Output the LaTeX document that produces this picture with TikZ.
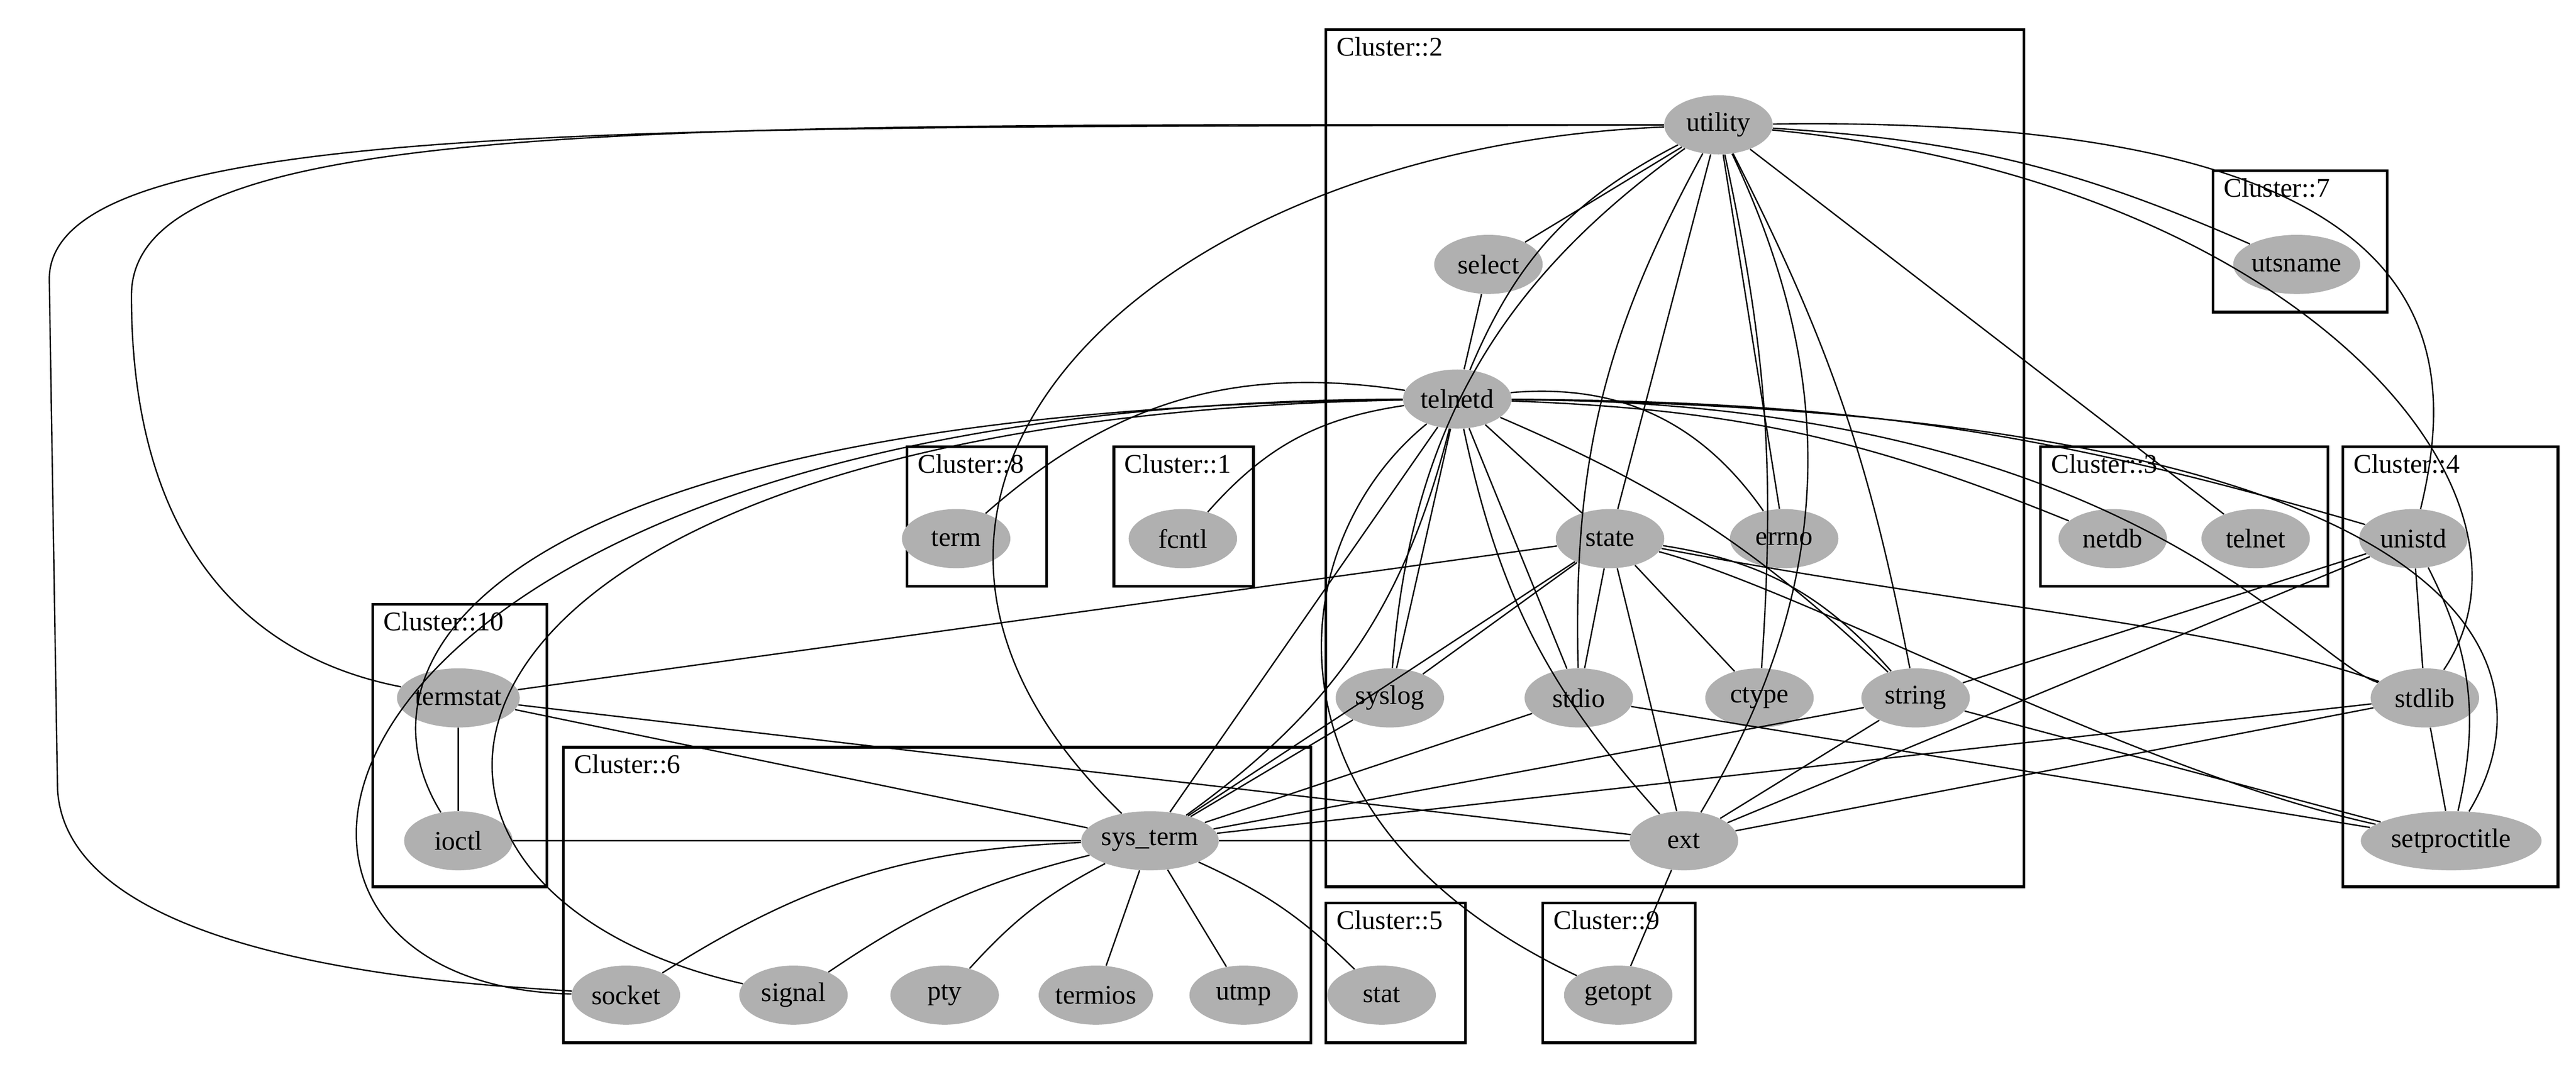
\documentclass[tikz,border=0pt]{standalone}
\usepackage{fontspec}
\setmainfont{Liberation Serif}
\usetikzlibrary{shapes.geometric}
\begin{document}
\begin{tikzpicture}[x=0.03cm,y=-0.03cm,
  mod/.style={ellipse,fill=black!31,minimum width=1.98cm,minimum height=1.08cm,inner sep=0pt,font=\fontsize{14}{16}\selectfont},
  clu/.style={draw,line width=1.4pt},
  clab/.style={anchor=north west,inner sep=2pt,font=\fontsize{14}{16}\selectfont},
  e/.style={draw,line width=0.7pt}]
\useasboundingbox (0,0) rectangle (1568,660);
% clusters
\foreach \n/\a/\b/\c/\d in {2/807/18/1232/540,7/1347/104/1453/190,8/552/272/637/357,1/678/272/763/357,
  3/1242/272/1417/357,4/1426/272/1557/540,10/227/368/333/540,6/343/455/798/635,5/807/550/892/635,9/939/550/1032/635}
  {\draw[clu] (\a,\b) rectangle (\c,\d); \node[clab] at (\a+4,\b+2) {Cluster::\n};}
% nodes
\node[mod] (utility) at (1046,76) {utility};
\node[mod] (select) at (906,161) {select};
\node[mod] (telnetd) at (887,243) {telnetd};
\node[mod] (state) at (980,328) {state};
\node[mod] (errno) at (1086,328) {errno};
\node[mod] (syslog) at (846,425) {syslog};
\node[mod] (stdio) at (961,425) {stdio};
\node[mod] (ctype) at (1071,425) {ctype};
\node[mod] (string) at (1166,425) {string};
\node[mod] (ext) at (1025,512) {ext};
\node[mod] (term) at (582,328) {term};
\node[mod] (fcntl) at (720,328) {fcntl};
\node[mod] (netdb) at (1286,328) {netdb};
\node[mod] (telnet) at (1373,328) {telnet};
\node[mod] (unistd) at (1469,328) {unistd};
\node[mod] (stdlib) at (1476,425) {stdlib};
\node[mod,minimum width=3.3cm] (setproctitle) at (1492,512) {setproctitle};
\node[mod] (utsname) at (1398,161) {utsname};
\node[mod] (termstat) at (279,425) {termstat};
\node[mod] (ioctl) at (279,512) {ioctl};
\node[mod] (sys_term) at (700,512) {sys\_term};
\node[mod] (socket) at (381,606) {socket};
\node[mod] (signal) at (483,606) {signal};
\node[mod] (pty) at (575,606) {pty};
\node[mod] (termios) at (667,606) {termios};
\node[mod] (utmp) at (757,606) {utmp};
\node[mod] (stat) at (841,606) {stat};
\node[mod] (getopt) at (985,606) {getopt};
% edges
\foreach \a/\b in {utility/select,utility/state,utility/errno,utility/telnet,select/telnetd,
  telnetd/state,telnetd/syslog,telnetd/stdio,telnetd/sys_term,
  state/syslog,state/stdio,state/ctype,state/ext,state/termstat,state/sys_term,
  unistd/stdlib,unistd/string,unistd/ext,stdlib/setproctitle,stdlib/ext,stdlib/sys_term,
  string/ext,string/sys_term,string/setproctitle,stdio/setproctitle,syslog/sys_term,stdio/sys_term,
  termstat/ioctl,termstat/sys_term,termstat/ext,ioctl/sys_term,sys_term/ext,
  sys_term/termios,sys_term/utmp,ext/getopt}
  \path[e] (\a) -- (\b);
\path[e] (utility) to[bend right=20] (telnetd);
\path[e] (utility) to[bend right=25] (syslog);
\path[e] (utility) to[bend right=15] (stdio);
\path[e] (utility) to[bend left=8] (ctype);
\path[e] (utility) to[bend left=8] (string);
\path[e] (utility) to[bend left=28] (ext);
\path[e] (utility) to[bend left=10] (utsname);
\path[e] (utility) .. controls (1480,70) and (1500,200) .. (unistd);
\path[e] (utility) .. controls (1400,110) and (1560,300) .. (stdlib);
\path[e] (utility) .. controls (700,90) and (480,300) .. (sys_term);
\path[e] (utility) .. controls (400,76) and (80,70) .. (80,180) .. controls (80,330) and (150,400) .. (termstat);
\path[e] (utility) .. controls (400,78) and (30,70) .. (30,170) -- (35,480) .. controls (40,590) and (300,600) .. (socket);
\path[e] (telnetd) to[bend right=25] (term);
\path[e] (telnetd) to[bend right=20] (fcntl);
\path[e] (telnetd) to[bend left=30] (errno);
\path[e] (telnetd) to[bend left=10] (string);
\path[e] (telnetd) to[bend right=15] (ext);
\path[e] (telnetd) to[bend left=10] (netdb);
\path[e] (telnetd) to[bend left=8] (unistd);
\path[e] (telnetd) .. controls (1300,245) and (1400,400) .. (stdlib);
\path[e] (telnetd) .. controls (1500,250) and (1560,400) .. (setproctitle);
\path[e] (telnetd) to[bend left=20] (sys_term);
\path[e] (telnetd) .. controls (780,330) and (760,500) .. (getopt);
\path[e] (telnetd) .. controls (300,250) and (210,400) .. (ioctl);
\path[e] (telnetd) .. controls (230,255) and (190,540) .. (signal);
\path[e] (telnetd) .. controls (170,245) and (100,600) .. (socket);
\path[e] (state) to[bend left=20] (string);
\path[e] (state) .. controls (1200,370) and (1350,380) .. (stdlib);
\path[e] (state) .. controls (1100,360) and (1300,470) .. (setproctitle);
\path[e] (unistd) to[bend left=20] (setproctitle);
\path[e] (sys_term) to[bend right=15] (socket);
\path[e] (sys_term) to[bend right=10] (signal);
\path[e] (sys_term) to[bend right=10] (pty);
\path[e] (sys_term) to[bend left=10] (stat);
\end{tikzpicture}
\end{document}
